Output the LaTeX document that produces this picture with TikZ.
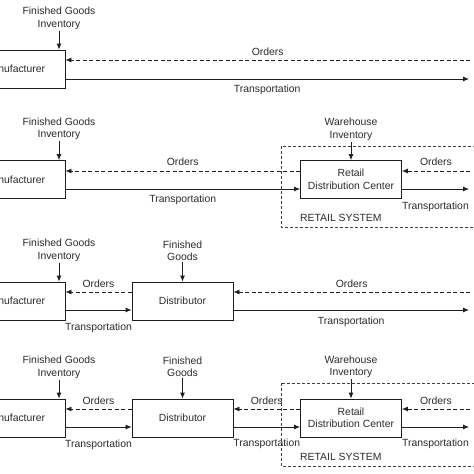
\documentclass[tikz,border=0pt]{standalone}
\usepackage{fontspec}
\setmainfont{Liberation Sans}
\usepackage{tikz}
\usetikzlibrary{arrows.meta,positioning}
\usepackage{xcolor}
\definecolor{ink}{HTML}{1E1E1E}
\definecolor{label}{HTML}{2A2A2A}
\newcommand{\chainfont}{\fontsize{10.4}{12.5}\selectfont}
\tikzset{stagebox/.style={draw=ink,line width=.8pt,minimum width=101pt,minimum height=38pt,inner sep=1pt,align=center,font=\chainfont,text=label},stocklabel/.style={align=center,inner sep=1pt,font=\chainfont,text=label},stockarrow/.style={draw=ink,line width=.8pt,-{Latex[length=6pt,width=5pt]}},orderline/.style={draw=ink,line width=.8pt,dash pattern=on 4pt off 2.5pt,-{Latex[length=6pt,width=5pt]}},shipline/.style={draw=ink,line width=.8pt,-{Latex[length=6pt,width=5pt]}},systemframe/.style={draw=ink!85,line width=.8pt,dash pattern=on 3pt off 2pt},flowlabel/.style={font=\chainfont,text=label,inner sep=2pt}}

\begin{document}
\begin{tikzpicture}[x=1pt,y=-1pt]
\useasboundingbox (0,0) rectangle (474,474);
\clip (0,0) rectangle (474,474);
\foreach \n/\y in {1/69,2/179.5,3/301,4/418}{\node[stagebox] (m\n) at (14.5,\y) {Manufacturer};
\node[stocklabel] (fg\n) at (59,\y-50.5) {Finished Goods\\Inventory};
\draw[stockarrow] (fg\n.south) -- (fg\n.south |- m\n.north);}
\node[stagebox] (d3) at (182.5,301) {Distributor};
\node[stagebox] (d4) at (182.5,418) {Distributor};
\node[stocklabel] (dg3) at (182.5,251) {Finished\\Goods};
\node[stocklabel] (dg4) at (182.5,367) {Finished\\Goods};
\draw[stockarrow] (dg3) -- (d3);
\draw[stockarrow] (dg4) -- (d4);
\node[stagebox] (r2) at (351,179.5) {Retail\\Distribution Center};
\node[stagebox] (r4) at (351,418) {Retail\\Distribution Center};
\node[stocklabel] (wh2) at (351,129.5) {Warehouse\\Inventory};
\node[stocklabel] (wh4) at (351,367) {Warehouse\\Inventory};
\draw[stockarrow] (wh2) -- (r2);
\draw[stockarrow] (wh4) -- (r4);
\draw[systemframe] (281,146) rectangle (480,227);
\draw[systemframe] (281,383) rectangle (480,466);
\node[flowlabel,anchor=west,inner sep=0pt] (rs2) at (300,218) {RETAIL SYSTEM};
\node[flowlabel,anchor=west,inner sep=0pt] (rs4) at (300,457) {RETAIL SYSTEM};
\coordinate (o1) at (470,60);
\coordinate (t1) at (469,79);
\draw[orderline] (o1) -- (m1.east |- o1) node[flowlabel,midway,above=2.2pt] {Orders};
\draw[shipline] (m1.east |- t1) -- (t1) node[flowlabel,midway,below=4pt] {Transportation};
\draw[orderline] ([yshift=8.5pt]r2.west) -- ([yshift=8.5pt]m2.east) node[flowlabel,midway,above=3.2pt] {Orders};
\draw[shipline] ([yshift=-9.5pt]m2.east) -- ([yshift=-9.5pt]r2.west) node[flowlabel,midway,below=4pt] {Transportation};
\coordinate (o2) at (470,171);
\coordinate (t2) at (469,189);
\draw[orderline] (o2) -- (r2.east |- o2) node[flowlabel,midway,above=3.2pt] {Orders};
\draw[shipline] (r2.east |- t2) -- (t2) node[flowlabel,midway,below=11pt] {Transportation};
\draw[orderline] ([yshift=9pt]d3.west) -- ([yshift=9pt]m3.east) node[flowlabel,midway,above=2.2pt] {Orders};
\draw[shipline] ([yshift=-9pt]m3.east) -- ([yshift=-9pt]d3.west) node[flowlabel,midway,below=11pt] {Transportation};
\coordinate (o3) at (470,292);
\coordinate (t3) at (469,310);
\draw[orderline] (o3) -- (d3.east |- o3) node[flowlabel,midway,above=2.2pt] {Orders};
\draw[shipline] (d3.east |- t3) -- (t3) node[flowlabel,midway,below=5pt] {Transportation};
\draw[orderline] ([yshift=9pt]d4.west) -- ([yshift=9pt]m4.east) node[flowlabel,midway,above=2.2pt] {Orders};
\draw[shipline] ([yshift=-9pt]m4.east) -- ([yshift=-9pt]d4.west) node[flowlabel,midway,below=11pt] {Transportation};
\draw[orderline] ([yshift=9pt]r4.west) -- ([yshift=9pt]d4.east) node[flowlabel,midway,above=2.2pt] {Orders};
\draw[shipline] ([yshift=-9pt]d4.east) -- ([yshift=-9pt]r4.west) node[flowlabel,midway,below=10pt] {Transportation};
\coordinate (o4) at (470,409);
\coordinate (t4) at (469,427);
\draw[orderline] (o4) -- (r4.east |- o4) node[flowlabel,midway,above=2.2pt] {Orders};
\draw[shipline] (r4.east |- t4) -- (t4) node[flowlabel,midway,below=10pt] {Transportation};
\end{tikzpicture}
\end{document}
